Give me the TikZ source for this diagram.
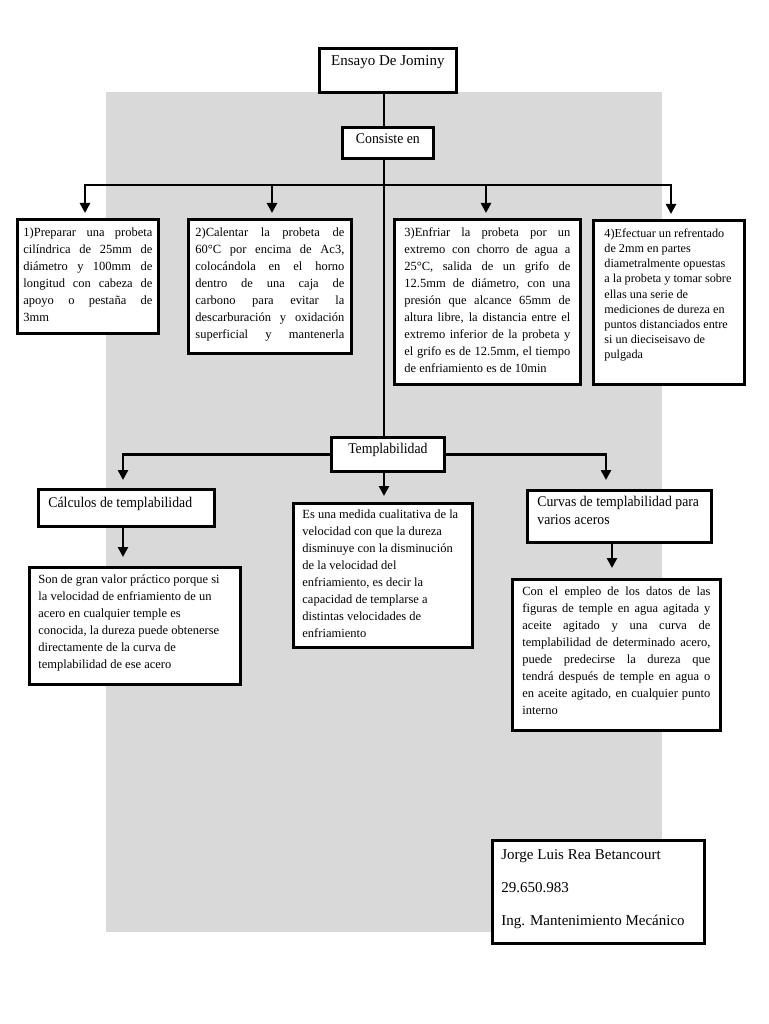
\documentclass[tikz,border=0pt]{standalone}
\usepackage{fontspec}
\setmainfont{Liberation Serif}
\newfontfamily\hfam[FakeStretch=0.93]{Liberation Serif}
\usetikzlibrary{arrows.meta}
\definecolor{bggrey}{HTML}{D9D9D9}
\newcommand{\jl}[1]{\makebox[\linewidth][s]{\strut #1}\par}
\newcommand{\rgl}[1]{\strut\mbox{#1}\par}
\newcommand{\bt}[3]{\begin{minipage}[c][#2][t]{#1}#3\end{minipage}}
\newcommand{\bodyf}{\fontsize{12.5}{17}\selectfont}
\newcommand{\smallf}{\fontsize{12.2}{15.2}\selectfont}
\newcommand{\headf}{\hfam\fontsize{14.8}{18}\selectfont}
\newcommand{\bigf}{\fontsize{15}{18}\selectfont}
\tikzset{
  box/.style={draw, line width=2.8pt, fill=white, anchor=north west, inner sep=0pt},
  conn/.style={line width=2.8pt},
  arr/.style={conn, -{Triangle[length=10pt,width=10pt]}}
}
\begin{document}
\begin{tikzpicture}[x=1pt,y=-1pt]
\useasboundingbox (0,0) rectangle (768,1024);
\fill[bggrey] (106,92) rectangle (662,932);

% nodes
\node[box, inner xsep=5pt, inner ysep=4.7pt] (ensayo) at (318,47)
  {\bt{127pt}{34.6pt}{\bigf\centering\strut Ensayo De Jominy\par}};
\node[box, inner xsep=5pt, inner ysep=3.7pt] (consiste) at (341,126)
  {\bt{81pt}{23.6pt}{\headf\centering\strut Consiste en\par}};

\node[box, inner xsep=6pt, inner ysep=5.1pt] (b1) at (16,218)
  {\bt{129pt}{103.8pt}{\bodyf
   \jl{1)Preparar una probeta}
   \jl{cilíndrica de 25mm de}
   \jl{diámetro y 100mm de}
   \jl{longitud con cabeza de}
   \jl{apoyo o pestaña de}
   \rgl{3mm}}};
\node[box, inner xsep=7pt, inner ysep=5.1pt] (b2) at (187,218)
  {\bt{149pt}{123.8pt}{\bodyf
   \jl{2)Calentar la probeta de}
   \jl{60°C por encima de Ac3,}
   \jl{colocándola en el horno}
   \jl{dentro de una caja de}
   \jl{carbono para evitar la}
   \jl{descarburación y oxidación}
   \jl{superficial y mantenerla}}};
\node[box, inner xsep=10pt, inner ysep=5.1pt] (b3) at (393,218)
  {\bt{166pt}{154.8pt}{\bodyf
   \jl{3)Enfriar la probeta por un}
   \jl{extremo con chorro de agua a}
   \jl{25°C, salida de un grifo de}
   \jl{12.5mm de diámetro, con una}
   \jl{presión que alcance 65mm de}
   \jl{altura libre, la distancia entre el}
   \jl{extremo inferior de la probeta y}
   \jl{el grifo es de 12.5mm, el tiempo}
   \rgl{de enfriamiento es de 10min}}};
\node[box, inner xsep=11pt, inner ysep=6.2pt] (b4) at (592,219)
  {\bt{129pt}{151.6pt}{\smallf
   \rgl{4)Efectuar un refrentado}
   \rgl{de 2mm en partes}
   \rgl{diametralmente opuestas}
   \rgl{a la probeta y tomar sobre}
   \rgl{ellas una serie de}
   \rgl{mediciones de dureza en}
   \rgl{puntos distanciados entre}
   \rgl{si un dieciseisavo de}
   \rgl{pulgada}}};

\node[box, inner xsep=5pt, inner ysep=3.7pt] (templ) at (330,436)
  {\bt{103pt}{26.6pt}{\headf\centering\strut Templabilidad\par}};

\node[box, inner xsep=10pt, inner ysep=5.7pt] (calc) at (37,488)
  {\bt{156pt}{25.6pt}{\headf\rgl{Cálculos de templabilidad}}};
\node[box, inner xsep=9pt, inner ysep=4.1pt] (son) at (28,566)
  {\bt{193pt}{108.8pt}{\bodyf
   \rgl{Son de gran valor práctico porque si}
   \rgl{la velocidad de enfriamiento de un}
   \rgl{acero en cualquier temple es}
   \rgl{conocida, la dureza puede obtenerse}
   \rgl{directamente de la curva de}
   \rgl{templabilidad de ese acero}}};
\node[box, inner xsep=9pt, inner ysep=3.1pt] (esuna) at (292,502)
  {\bt{161pt}{137.8pt}{\bodyf
   \rgl{Es una medida cualitativa de la}
   \rgl{velocidad con que la dureza}
   \rgl{disminuye con la disminución}
   \rgl{de la velocidad del}
   \rgl{enfriamiento, es decir la}
   \rgl{capacidad de templarse a}
   \rgl{distintas velocidades de}
   \rgl{enfriamiento}}};
\node[box, inner xsep=10pt, inner ysep=3.7pt] (curvas) at (526,489)
  {\bt{164pt}{44.6pt}{\headf
   \rgl{Curvas de templabilidad para}
   \rgl{varios aceros}}};
\node[box, inner xsep=10pt, inner ysep=4.1pt] (con) at (511,578)
  {\bt{188pt}{142.8pt}{\bodyf
   \jl{Con el empleo de los datos de las}
   \jl{figuras de temple en agua agitada y}
   \jl{aceite agitado y una curva de}
   \jl{templabilidad de determinado acero,}
   \jl{puede predecirse la dureza que}
   \jl{tendrá después de temple en agua o}
   \jl{en aceite agitado, en cualquier punto}
   \rgl{interno}}};

\node[box, inner xsep=9pt, inner ysep=8.3pt] (author) at (491,839)
  {\bt{194pt}{86.4pt}{\fontsize{15}{33}\selectfont
   \rule{0pt}{11pt}Jorge Luis Rea Betancourt\par
   29.650.983\par
   Ing. Mantenimiento Mecánico\par}};

% helper coordinates
\coordinate (mx) at (384,0);
\coordinate (jn) at (384,185);
\coordinate (a1) at (85,185);
\coordinate (a2) at (272,185);
\coordinate (a3) at (486,185);
\coordinate (a4) at (671,185);
\coordinate (cL) at (123,0);
\coordinate (cR) at (606,0);
\coordinate (cS) at (612,0);

% connectors
\draw[conn] (ensayo.south -| mx) -- (consiste.north -| mx);
\draw[conn] (consiste.south -| mx) -- (templ.north -| mx);
\draw[arr, shorten >=5pt] (jn) -| (a1 |- b1.north);
\draw[arr, shorten >=5pt] (jn) -| (a4 |- b4.north);
\draw[arr, shorten >=5pt] (a2) -- (a2 |- b2.north);
\draw[arr, shorten >=5pt] (a3) -- (a3 |- b3.north);
\draw[arr, shorten >=8pt] (templ.west) -| (cL |- calc.north);
\draw[arr, shorten >=9pt] (templ.east) -| (cR |- curvas.north);
\draw[arr, shorten >=6pt] (templ.south -| mx) -- (esuna.north -| mx);
\draw[arr, shorten >=9pt] (calc.south -| cL) -- (son.north -| cL);
\draw[arr, shorten >=10pt] (curvas.south -| cS) -- (con.north -| cS);
\end{tikzpicture}
\end{document}
